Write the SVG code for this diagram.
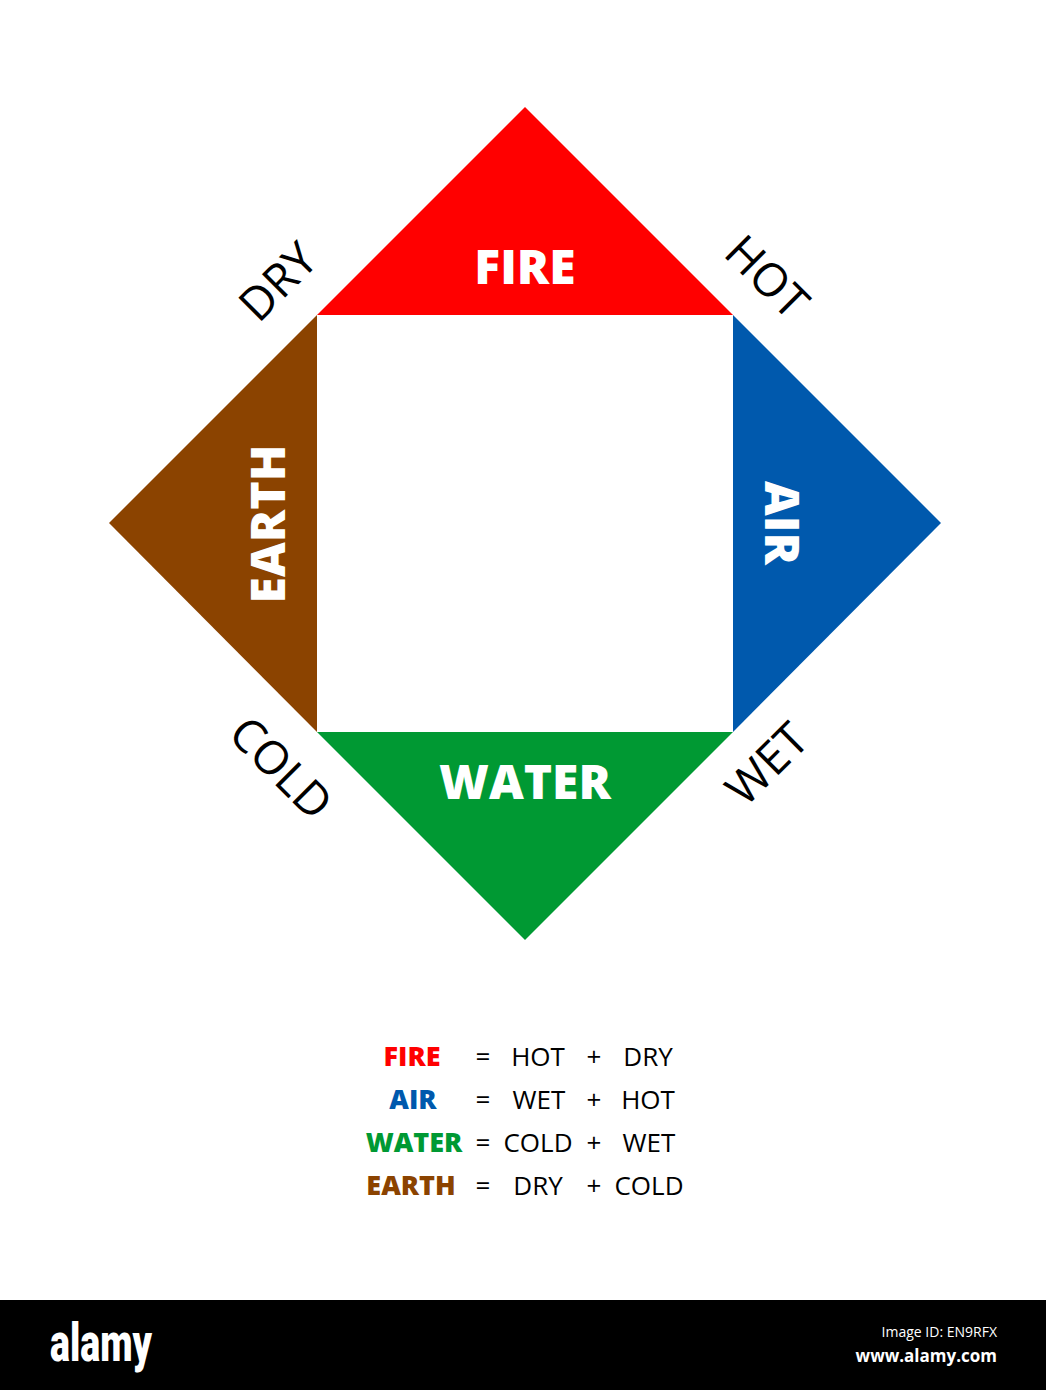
<svg xmlns="http://www.w3.org/2000/svg" width="1046" height="1390" viewBox="0 0 1046 1390">
<style>
.el{font-family:"Open Sans","Noto Sans","DejaVu Sans",sans-serif;font-weight:800;font-size:48px;fill:#fff;text-anchor:middle}
.q{font-family:"Open Sans","Noto Sans","DejaVu Sans",sans-serif;font-size:46px;fill:#000;text-anchor:middle}
.lg{font-family:"Open Sans","Noto Sans","DejaVu Sans",sans-serif;font-size:26px;fill:#000;text-anchor:middle}
.lb{font-weight:800;font-size:27px}
</style>
<rect width="1046" height="1390" fill="#fff"/>
<g id="fire">
<polygon points="525,107 733,315 317,315" fill="#ff0000"/>
<text class="el" x="525" y="284">FIRE</text>
</g>
<g id="air">
<polygon points="733,315 941,523 733,732" fill="#0059ad"/>
<text class="el" transform="translate(765,523) rotate(90)" x="0" y="0">AIR</text>
</g>
<g id="water">
<polygon points="317,732 733,732 525,940" fill="#009933"/>
<text class="el" x="525" y="799">WATER</text>
</g>
<g id="earth">
<polygon points="317,315 317,732 109,523" fill="#8b4300"/>
<text class="el" transform="translate(285,524) rotate(-90)" x="0" y="0">EARTH</text>
</g>
<g id="qualities">
<text class="q" transform="translate(278,282) rotate(-45)" x="0" y="16">DRY</text>
<text class="q" transform="translate(767,277) rotate(45)" x="0" y="16">HOT</text>
<text class="q" transform="translate(281,768) rotate(45)" x="0" y="16">COLD</text>
<text class="q" transform="translate(767,764) rotate(-45)" x="0" y="16">WET</text>
</g>
<g id="legend">
<text class="lg lb" x="412" y="1066" style="fill:#ff0000">FIRE</text>
<text class="lg lb" x="413" y="1109" style="fill:#0059ad">AIR</text>
<text class="lg lb" x="414" y="1152" style="fill:#009933">WATER</text>
<text class="lg lb" x="411" y="1195" style="fill:#8b4300">EARTH</text>
<text class="lg" x="483" y="1066">=</text>
<text class="lg" x="483" y="1109">=</text>
<text class="lg" x="483" y="1152">=</text>
<text class="lg" x="483" y="1195">=</text>
<text class="lg" x="538" y="1066">HOT</text>
<text class="lg" x="539" y="1109">WET</text>
<text class="lg" x="538" y="1152">COLD</text>
<text class="lg" x="538" y="1195">DRY</text>
<text class="lg" x="594" y="1066">+</text>
<text class="lg" x="594" y="1109">+</text>
<text class="lg" x="594" y="1152">+</text>
<text class="lg" x="594" y="1195">+</text>
<text class="lg" x="648" y="1066">DRY</text>
<text class="lg" x="648" y="1109">HOT</text>
<text class="lg" x="649" y="1152">WET</text>
<text class="lg" x="649" y="1195">COLD</text>
</g>
<g id="footer">
<rect x="0" y="1300" width="1046" height="90" fill="#000"/>
<text x="50" y="1361" font-family="Roboto,'Liberation Sans',sans-serif" font-weight="900" font-size="54" fill="#fff" textLength="102" lengthAdjust="spacingAndGlyphs">alamy</text>
<text x="997" y="1337" font-family="'Open Sans','Noto Sans',sans-serif" font-size="14" fill="#fff" text-anchor="end">Image ID: EN9RFX</text>
<text x="997" y="1362" font-family="'Open Sans','Noto Sans',sans-serif" font-weight="bold" font-size="17" fill="#fff" text-anchor="end">www.alamy.com</text>
</g>
</svg>
